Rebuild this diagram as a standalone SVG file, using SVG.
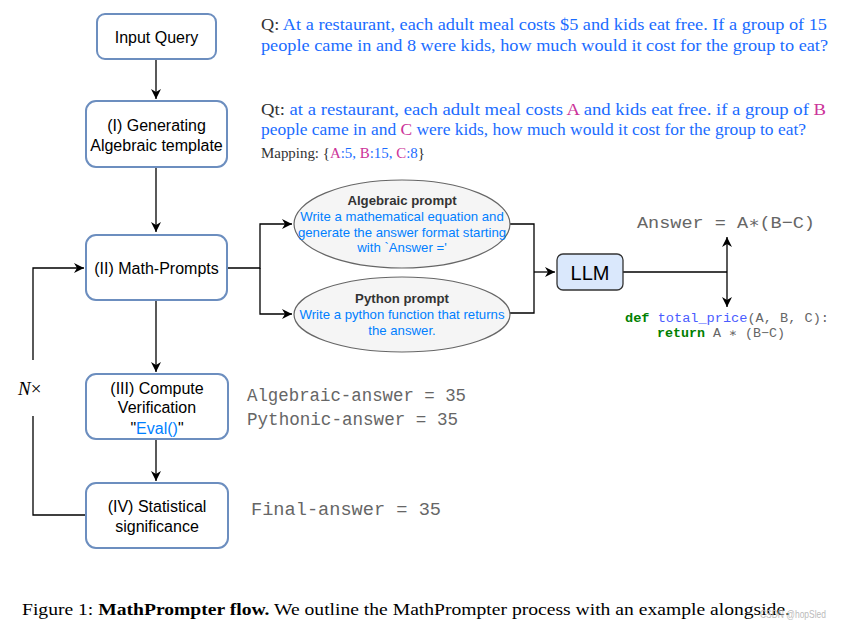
<svg xmlns="http://www.w3.org/2000/svg" width="842" height="631" viewBox="0 0 842 631">
<defs>
<marker id="arr" markerUnits="userSpaceOnUse" markerWidth="12" markerHeight="10" refX="10" refY="5" orient="auto">
<path d="M0,0 L10,5 L0,10 L3,5 Z" fill="#000"/>
</marker>
<style>
.box{fill:#fff;stroke:#6c8ebf;stroke-width:2}
.bt{font-family:"Liberation Sans",Arial,sans-serif;font-size:16px;fill:#000;text-anchor:middle}
.ell{fill:#f5f5f5;stroke:#666;stroke-width:1.2}
.et{font-family:"Liberation Sans",Arial,sans-serif;font-size:13.2px;text-anchor:middle}
.eh{font-weight:bold;fill:#333}
.eb{fill:#007fff}
.con{fill:none;stroke:#000;stroke-width:1.3}
.serif{font-family:"Liberation Serif","Times New Roman",serif;font-size:16px}
.blue{fill:#1a6cff}
.pink{fill:#cc3399}
.grey{fill:#333}
.mono{font-family:"Liberation Mono","Courier New",monospace;fill:#666}
</style>
</defs>
<rect width="842" height="631" fill="#fff"/>

<g id="connectors">
<path class="con" d="M156,59 V99" marker-end="url(#arr)"/>
<path class="con" d="M156,167 V232" marker-end="url(#arr)"/>
<path class="con" d="M156,300 V372" marker-end="url(#arr)"/>
<path class="con" d="M156,439 V481" marker-end="url(#arr)"/>
<path class="con" d="M86,515 H33 V416"/>
<path class="con" d="M33,360 V268 H84" marker-end="url(#arr)"/>
<path class="con" d="M227,268 H260 V224 H292" marker-end="url(#arr)"/>
<path class="con" d="M260,268 V314 H292" marker-end="url(#arr)"/>
<path class="con" d="M510,224 H534 V313 H510"/>
<path class="con" d="M534,272 H555" marker-end="url(#arr)"/>
<path class="con" d="M623,272 H727"/>
<path class="con" d="M727,272 V237" marker-end="url(#arr)"/>
<path class="con" d="M727,272 V307" marker-end="url(#arr)"/>
</g>

<g id="input-query">
<rect class="box" x="97" y="14" width="119" height="45" rx="8"/>
<text class="bt" x="156.5" y="43">Input Query</text>
</g>
<g id="step1">
<rect class="box" x="86" y="101" width="141" height="66" rx="10"/>
<text class="bt" x="156.5" y="131">(I) Generating</text>
<text class="bt" x="156.5" y="151">Algebraic template</text>
</g>
<g id="step2">
<rect class="box" x="86" y="235" width="141" height="65" rx="10"/>
<text class="bt" x="156.5" y="274">(II) Math-Prompts</text>
</g>
<g id="step3">
<rect class="box" x="86" y="374" width="142" height="65" rx="10"/>
<text class="bt" x="157" y="394">(III) Compute</text>
<text class="bt" x="157" y="413">Verification</text>
<text class="bt" x="157" y="434">"<tspan fill="#007fff">Eval()</tspan>"</text>
</g>
<g id="step4">
<rect class="box" x="86" y="483" width="142" height="65" rx="10"/>
<text class="bt" x="157" y="512">(IV) Statistical</text>
<text class="bt" x="157" y="532">significance</text>
</g>

<g id="algebraic-prompt">
<ellipse class="ell" cx="402" cy="224" rx="108" ry="44"/>
<text class="et eh" x="402" y="205">Algebraic prompt</text>
<text class="et eb" x="402" y="221">Write a mathematical equation and</text>
<text class="et eb" x="402" y="237">generate the answer format starting</text>
<text class="et eb" x="402" y="252">with `Answer ='</text>
</g>
<g id="python-prompt">
<ellipse class="ell" cx="402" cy="314.5" rx="108" ry="37.5"/>
<text class="et eh" x="402" y="303">Python prompt</text>
<text class="et eb" x="402" y="319">Write a python function that returns</text>
<text class="et eb" x="402" y="335">the answer.</text>
</g>

<g id="llm">
<rect x="557" y="254" width="66" height="36" rx="6" fill="#dae8fc" stroke="#333" stroke-width="1.3"/>
<text x="590" y="279.5" text-anchor="middle" font-family="Liberation Sans,Arial,sans-serif" font-size="20" fill="#000">LLM</text>
</g>

<g id="question-text" class="serif">
<text x="261" y="30" textLength="566" lengthAdjust="spacingAndGlyphs"><tspan class="grey">Q: </tspan><tspan class="blue">At a restaurant, each adult meal costs $5 and kids eat free.  If a group of 15</tspan></text>
<text x="261" y="51" textLength="567" lengthAdjust="spacingAndGlyphs" class="blue">people came in and 8 were kids, how much would it cost for the group to eat?</text>
<text x="261" y="115" textLength="565" lengthAdjust="spacingAndGlyphs"><tspan class="grey">Qt: </tspan><tspan class="blue"> at a restaurant, each adult meal costs </tspan><tspan class="pink">A</tspan><tspan class="blue"> and kids eat free.  if a group of </tspan><tspan class="pink">B</tspan></text>
<text x="261" y="135" textLength="545" lengthAdjust="spacingAndGlyphs"><tspan class="blue">people came in and </tspan><tspan class="pink">C</tspan><tspan class="blue"> were kids, how much would it cost for the group to eat?</tspan></text>
<text x="261" y="158" font-size="14" textLength="164" lengthAdjust="spacingAndGlyphs"><tspan class="grey">Mapping: {</tspan><tspan class="pink">A</tspan><tspan class="blue">:5, </tspan><tspan class="pink">B</tspan><tspan class="blue">:15, </tspan><tspan class="pink">C</tspan><tspan class="blue">:8</tspan><tspan class="grey">}</tspan></text>
</g>

<g id="answers">
<text class="mono" x="637" y="228" font-size="17" textLength="178" lengthAdjust="spacingAndGlyphs">Answer = A∗(B−C)</text>
<text class="mono" x="625" y="322" font-size="12.5" textLength="204" lengthAdjust="spacingAndGlyphs"><tspan fill="#008000" font-weight="bold">def</tspan> <tspan fill="#4a5cff">total_price</tspan>(A, B, C):</text>
<text class="mono" x="657" y="337" font-size="12.5" textLength="128" lengthAdjust="spacingAndGlyphs"><tspan fill="#008000" font-weight="bold">return</tspan> A ∗ (B−C)</text>
<text class="mono" x="247" y="401" font-size="17.5" textLength="219" lengthAdjust="spacingAndGlyphs">Algebraic-answer = 35</text>
<text class="mono" x="247" y="425" font-size="17.5" textLength="211" lengthAdjust="spacingAndGlyphs">Pythonic-answer = 35</text>
<text class="mono" x="251" y="515" font-size="17.5" textLength="190" lengthAdjust="spacingAndGlyphs">Final-answer = 35</text>
</g>

<text x="18" y="395" font-family="Liberation Serif,Times New Roman,serif" font-size="19" fill="#000"><tspan font-style="italic">N</tspan>×</text>

<text x="22" y="615" font-family="Liberation Serif,Times New Roman,serif" font-size="17.5" fill="#000" textLength="768" lengthAdjust="spacingAndGlyphs">Figure 1: <tspan font-weight="bold">MathPrompter flow.</tspan> We outline the MathPrompter process with an example alongside.</text>
<text x="760" y="618" font-family="Liberation Sans,Arial,sans-serif" font-size="11" fill="#bbb" textLength="66" lengthAdjust="spacingAndGlyphs">CSDN @hopSled</text>
</svg>
